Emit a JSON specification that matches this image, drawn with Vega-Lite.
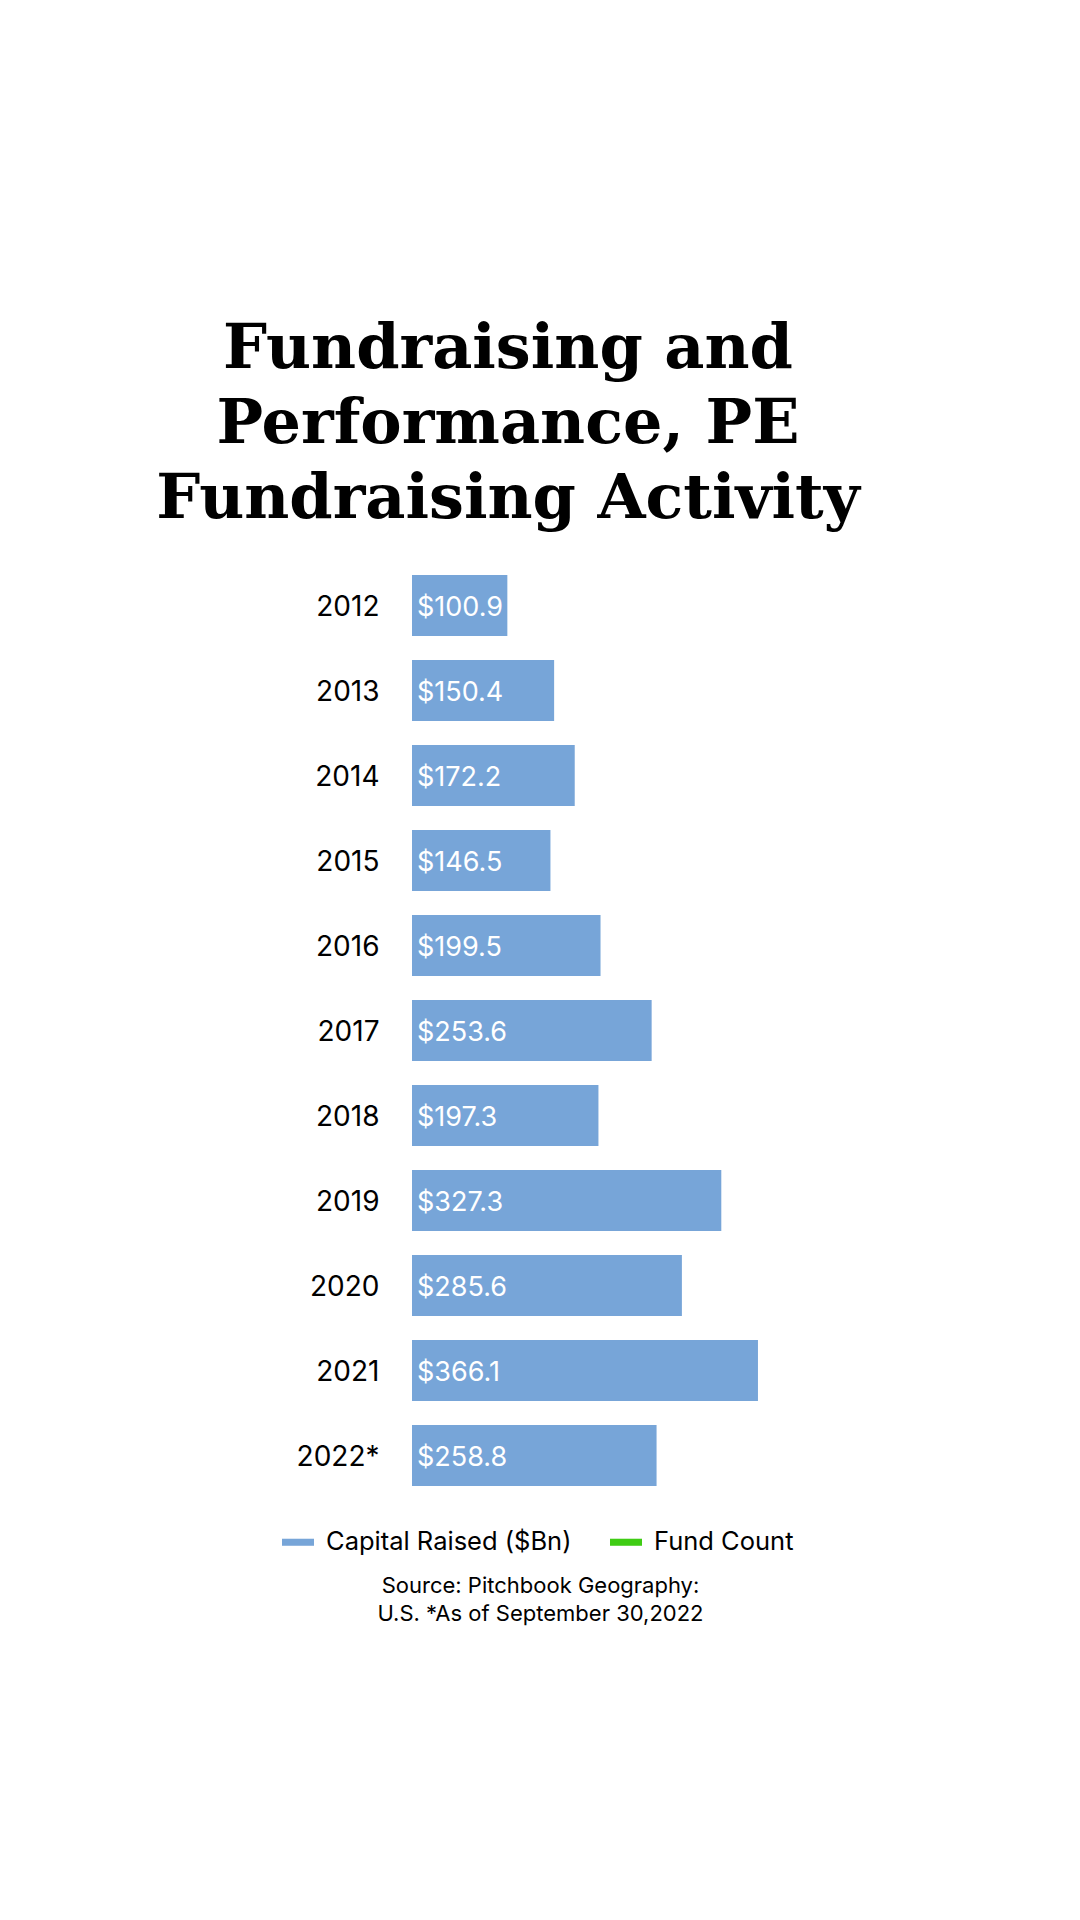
{
  "$schema": "https://vega.github.io/schema/vega-lite/v6.json",
  "autosize": {"type": "none"},
  "width": 378,
  "height": 935,
  "padding": {"left": 412, "top": 563, "right": 290, "bottom": 422},
  "background": "white",
  "title": {
    "text": ["Fundraising and", "Performance, PE", "Fundraising Activity"],
    "font": "DejaVu Serif",
    "fontSize": 62,
    "fontWeight": "bold",
    "lineHeight": 75,
    "anchor": "middle",
    "frame": "group",
    "dx": -93,
    "offset": 32,
    "color": "black"
  },
  "data": {
    "values": [
      {"year": "2012", "value": 100.9, "series": "Capital Raised ($Bn)"},
      {"year": "2013", "value": 150.4, "series": "Capital Raised ($Bn)"},
      {"year": "2014", "value": 172.2, "series": "Capital Raised ($Bn)"},
      {"year": "2015", "value": 146.5, "series": "Capital Raised ($Bn)"},
      {"year": "2016", "value": 199.5, "series": "Capital Raised ($Bn)"},
      {"year": "2017", "value": 253.6, "series": "Capital Raised ($Bn)"},
      {"year": "2018", "value": 197.3, "series": "Capital Raised ($Bn)"},
      {"year": "2019", "value": 327.3, "series": "Capital Raised ($Bn)"},
      {"year": "2020", "value": 285.6, "series": "Capital Raised ($Bn)"},
      {"year": "2021", "value": 366.1, "series": "Capital Raised ($Bn)"},
      {"year": "2022*", "value": 258.8, "series": "Capital Raised ($Bn)"}
    ]
  },
  "encoding": {
    "y": {
      "field": "year",
      "type": "nominal",
      "sort": null,
      "scale": {"paddingInner": 0.282, "paddingOuter": 0.141},
      "axis": {
        "title": null,
        "ticks": false,
        "domain": false,
        "labelFontSize": 28,
        "labelFont": "Inter",
        "labelColor": "black",
        "labelPadding": 33,
        "labelAlign": "right",
        "labelOffset": 2
      }
    }
  },
  "layer": [
    {
      "mark": {"type": "bar"},
      "encoding": {
        "x": {
          "field": "value",
          "type": "quantitative",
          "scale": {"domain": [0, 400], "nice": false, "zero": true},
          "axis": {
            "labels": false,
            "ticks": false,
            "domain": false,
            "grid": false,
            "title": ["Source: Pitchbook Geography:", "U.S. *As of September 30,2022"],
            "titleFont": "Inter",
            "titleFontSize": 22,
            "titleFontWeight": "normal",
            "titleColor": "black",
            "titleX": 128,
            "titleY": 87,
            "titleAlign": "center",
            "titleBaseline": "middle",
            "titleLineHeight": 28
          }
        },
        "color": {
          "field": "series",
          "type": "nominal",
          "scale": {"domain": ["Capital Raised ($Bn)", "Fund Count"], "range": ["#77a5d8", "#3fcc14"]},
          "legend": {
            "orient": "none",
            "legendX": -130,
            "legendY": 963,
            "direction": "horizontal",
            "title": null,
            "symbolType": "M-1,-0.22H1V0.22H-1Z",
            "symbolSize": 1024,
            "symbolStrokeWidth": 0,
            "labelFont": "Inter",
            "labelFontSize": 25.5,
            "labelColor": "black",
            "labelOffset": 12,
            "labelLimit": 0,
            "columnPadding": 38,
            "padding": 0
          }
        }
      }
    },
    {
      "mark": {"type": "text", "align": "left", "baseline": "middle", "dx": 5, "dy": 2, "color": "white", "font": "Inter", "fontSize": 27},
      "encoding": {
        "x": {"datum": 0},
        "text": {"field": "value", "type": "quantitative", "format": "$.1f"}
      }
    }
  ],
  "config": {"view": {"stroke": null}}
}
